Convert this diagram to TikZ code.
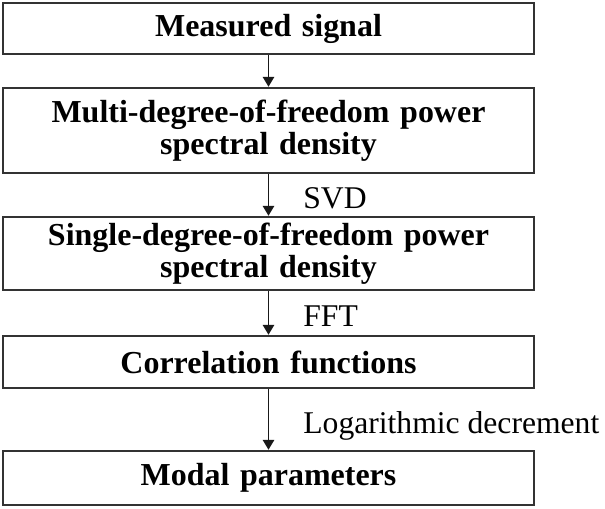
\documentclass[tikz,border=0pt]{standalone}
\usepackage{fontspec}
\setmainfont{Liberation Serif}
\usetikzlibrary{arrows.meta}
\tikzset{
  box/.style={draw=black!80, line width=0.5mm, minimum width=10.62cm,
    text width=10.3cm, align=center, inner sep=0pt,
    font=\bfseries\fontsize{18.2}{18.4}\selectfont},
  arr/.style={-{Triangle[length=2mm,width=2.3mm]}, line width=0.35mm, black!90},
  lab/.style={anchor=base west, pos=0.53, inner sep=0pt, xshift=0.68cm,
    yshift=-0.24cm, black, font=\fontsize{18}{18.2}\selectfont}
}
\begin{document}
\begin{tikzpicture}[x=0.02cm, y=-0.02cm]
      \useasboundingbox (0,0) rectangle (605,508);
      \foreach \n/\y/\h/\t in{1/28.5/1.02/{Measured signal},
          2/130.5/1.70/{Multi-degree-of-freedom power\\spectral density},
          3/253.5/1.46/{Single-degree-of-freedom power\\spectral density},
          4/362/1.04/{Correlation functions},
          5/478/1.08/{Modal parameters}}{
        \node[box, minimum height=\h cm](N\n) at (268.5, \y) {\t};
      }
      \foreach \a/\b/\t in{1/2/{}, 2/3/SVD, 3/4/FFT, 4/5/{Logarithmic decrement}}{
        \draw[arr](N\a) -- node[lab]{\t} (N\b);
      }
    \end{tikzpicture}
\end{document}
